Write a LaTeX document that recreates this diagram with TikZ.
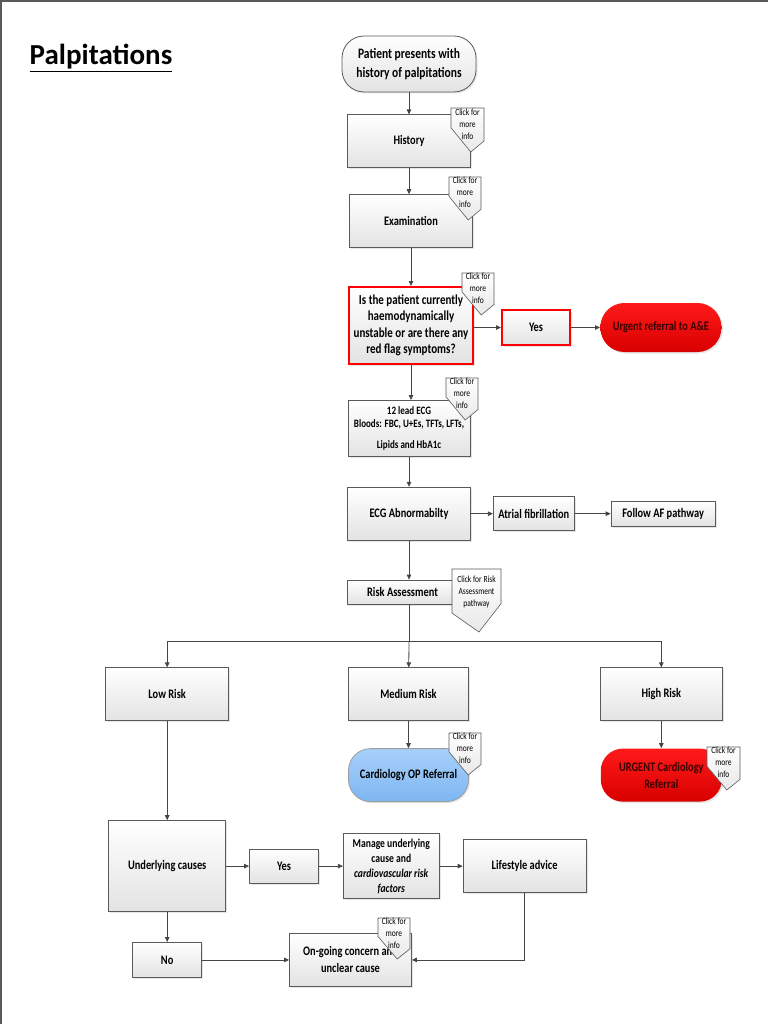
\documentclass[tikz,border=0pt]{standalone}
\usepackage{fontspec}
\setmainfont{Carlito}[FakeStretch=0.8]
\newfontfamily\headfont{Carlito}
\usetikzlibrary{arrows.meta,positioning,shadows}
\definecolor{lnk}{HTML}{454545}
\definecolor{edge}{HTML}{5A5A5A}
\definecolor{redtop}{HTML}{FF1A1A}
\definecolor{redbot}{HTML}{D80000}
\definecolor{bluetop}{HTML}{A8D0FA}
\definecolor{bluebot}{HTML}{7DB6F2}
\definecolor{darkred}{HTML}{3A0000}
% callout: name, x, y, width, height, left side, right side, tip, text
\newcommand{\infotag}[9]{%
 \draw[tag] (#2,#3) -- ++(#4,0) -- ++(0,#7*#5) -- (#2+#8*#4,#3+#5) -- (#2,#3+#6*#5) -- cycle;
 \node[tagtext] (#1) at (#2+0.5*#4,#3+0.36*#5) {#9};}

\begin{document}
\begin{tikzpicture}[x=1pt,y=-1pt,font=\bfseries\fontsize{13}{17}\selectfont,
 box/.style={draw=edge,line width=0.8pt,top color=white,bottom color=gray!22,align=center,
  drop shadow={opacity=0.2,shadow xshift=1.5pt,shadow yshift=-1.5pt},inner sep=2pt},
 flagbox/.style={box,draw=red,line width=2pt},
 pill/.style={box,rounded corners=22pt},
 redpill/.style={pill,draw=none,top color=redtop,bottom color=redbot,text=darkred},
 bluepill/.style={pill,draw=edge!60,top color=bluetop,bottom color=bluebot},
 tag/.style={draw=edge,line width=0.6pt,top color=white,bottom color=gray!18},
 tagtext/.style={font=\fontsize{9.4}{12}\selectfont,align=center,inner sep=0pt},
 arr/.style={-{Triangle[length=5pt,width=4.5pt]},draw=lnk,line width=0.8pt}]
 \useasboundingbox (0,0) rectangle (768,1024);
 \draw[edge,line width=2pt] (0,1) -- (768,1) (1,0) -- (1,1024);
 \node[font=\headfont\bfseries\fontsize{29}{32}\selectfont] (title) at (101,58) {\underline{Palpitations}};

 % main column
 \node[pill,minimum width=134pt,minimum height=56pt,font=\bfseries\fontsize{14.4}{19}\selectfont] (start) at (409,64) {Patient presents with\\history of palpitations};
 \node[box,minimum width=123pt,minimum height=53pt,below=22pt of start] (hist) {History};
 \node[box,minimum width=123pt,minimum height=53pt,below=26pt of hist,xshift=2pt] (exam) {Examination};
 \node[flagbox,minimum width=124pt,minimum height=77pt,below=38pt of exam,font=\bfseries\fontsize{13.75}{16.5}\selectfont] (quest) {Is the patient currently\\haemodynamically\\unstable or are there any\\red flag symptoms?};
 \node[flagbox,minimum width=68pt,minimum height=35pt,right=27pt of quest,yshift=-2pt] (yes1) {Yes};
 \node[redpill,rounded corners=24pt,minimum width=121pt,minimum height=49pt,right=29pt of yes1] (urgent) {Urgent referral to A\&E};
 \node[box,minimum width=122pt,minimum height=56pt,below=35pt of quest,xshift=-2pt,font=\bfseries\fontsize{11.3}{13.5}\selectfont] (ecg) {12 lead ECG\\Bloods: FBC, U+Es, TFTs, LFTs,\\[7pt]Lipids and HbA1c};
 \node[box,minimum width=123pt,minimum height=53pt,below=30pt of ecg] (abn) {ECG Abnormabilty};
 \node[box,minimum width=81pt,minimum height=34pt,right=22pt of abn] (af) {Atrial fibrillation};
 \node[box,minimum width=104pt,minimum height=25pt,right=36pt of af] (afpath) {Follow AF pathway};
 \node[box,minimum width=110pt,minimum height=24pt,below=39pt of abn,xshift=-6.5pt] (risk) {Risk Assessment};

 % risk levels
 \node[box,minimum width=120pt,minimum height=53pt,below=63pt of risk,xshift=6pt] (med) {Medium Risk};
 \node[box,minimum width=123pt,minimum height=53pt,left=119pt of med] (low) {Low Risk};
 \node[box,minimum width=122pt,minimum height=53pt,right=131pt of med] (high) {High Risk};
 \node[bluepill,minimum width=120pt,minimum height=53pt,below=27pt of med] (cop) {Cardiology OP Referral};
 \node[redpill,minimum width=121pt,minimum height=53pt,below=27pt of high,align=center] (urgcard) {URGENT Cardiology\\Referral};

 % low risk branch
 \node[box,minimum width=117pt,minimum height=91pt,below=99pt of low] (under) {Underlying causes};
 \node[box,minimum width=69pt,minimum height=34pt,right=23pt of under] (yes2) {Yes};
 \node[box,minimum width=96pt,minimum height=65pt,right=24pt of yes2,font=\bfseries\fontsize{12}{15}\selectfont] (manage) {Manage underlying\\cause and\\\textit{cardiovascular risk}\\\textit{factors}};
 \node[box,minimum width=123pt,minimum height=53pt,right=23pt of manage] (life) {Lifestyle advice};
 \node[box,minimum width=69pt,minimum height=35pt,below=30pt of under] (no) {No};
 \node[box,minimum width=122pt,minimum height=53pt,right=87pt of no] (ongo) {On-going concern and\\unclear cause};

 % connectors
 \draw[arr] (start) -- (hist);
 \draw[arr] (hist.south) -- (hist.south |- exam.north);
 \draw[arr] (exam.south) -- (exam.south |- quest.north);
 \draw[arr] (quest.east |- yes1) -- (yes1);
 \draw[arr] (yes1) -- (urgent);
 \draw[arr] (quest.south) -- (quest.south |- ecg.north);
 \draw[arr] (ecg) -- (abn);
 \draw[arr] (abn) -- (af);
 \draw[arr] (af) -- (afpath);
 \draw[arr] (abn.south) -- (abn.south |- risk.north);
 \coordinate (split) at (abn.south |- 0,641);
 \draw[lnk,line width=0.8pt] (risk.south -| split) -- (split);
 \draw[arr] (split) -- (med);
 \draw[arr] (split) -| (low);
 \draw[arr] (split) -| (high);
 \draw[arr] (med) -- (cop);
 \draw[arr] (high) -- (urgcard);
 \draw[arr] (low) -- (under);
 \draw[arr] (under.east |- yes2) -- (yes2);
 \draw[arr] (yes2) -- (manage.west |- yes2);
 \draw[arr] (manage.east |- life) -- (life);
 \draw[arr] (under) -- (no);
 \draw[arr] (no) -- (ongo);
 \draw[arr] (life.south) |- (ongo.east);

 % click for more info tags
 \infotag{histinfo}{451}{108}{33}{44}{0.45}{0.75}{0.6}{Click for\\more\\info}
 \infotag{examinfo}{449}{177}{32}{43}{0.45}{0.75}{0.6}{Click for\\more\\info}
 \infotag{questinfo}{462}{273}{32}{42}{0.45}{0.75}{0.6}{Click for\\more\\info}
 \infotag{ecginfo}{446}{378}{32}{42}{0.45}{0.75}{0.6}{Click for\\more\\info}
 \infotag{riskinfo}{452}{569}{49}{63}{0.7}{0.55}{0.55}{Click for Risk\\Assessment\\pathway}
 \infotag{copinfo}{449}{733}{32}{42}{0.45}{0.75}{0.6}{Click for\\more\\info}
 \infotag{urginfo}{707}{747}{33}{43}{0.45}{0.75}{0.6}{Click for\\more\\info}
 \infotag{ongoinfo}{378}{918}{32}{41}{0.45}{0.75}{0.6}{Click for\\more\\info}
\end{tikzpicture}
\end{document}
